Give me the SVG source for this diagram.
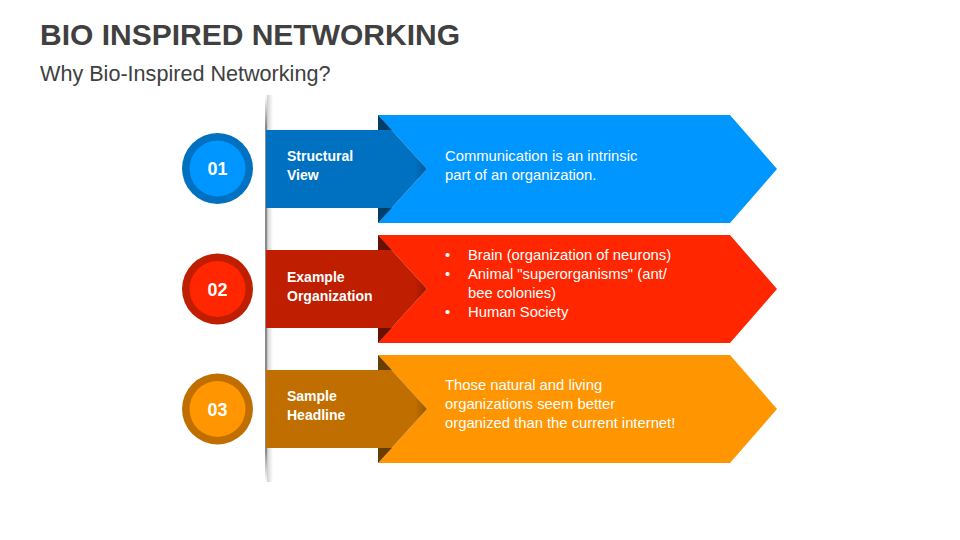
<svg xmlns="http://www.w3.org/2000/svg" width="960" height="540" viewBox="0 0 960 540">
<defs>
<linearGradient id="vline" x1="0" y1="0" x2="0" y2="1">
<stop offset="0" stop-color="#8a8a8a" stop-opacity="0"/>
<stop offset="0.08" stop-color="#8a8a8a"/>
<stop offset="0.92" stop-color="#8a8a8a"/>
<stop offset="1" stop-color="#8a8a8a" stop-opacity="0"/>
</linearGradient>
<linearGradient id="vshadow" x1="0" y1="0" x2="1" y2="0">
<stop offset="0" stop-color="#000" stop-opacity="0.18"/>
<stop offset="1" stop-color="#000" stop-opacity="0"/>
</linearGradient>
<linearGradient id="tipshade" x1="0" y1="0" x2="1" y2="0">
<stop offset="0" stop-color="#000" stop-opacity="0"/>
<stop offset="0.75" stop-color="#000" stop-opacity="0"/>
<stop offset="1" stop-color="#000" stop-opacity="0.2"/>
</linearGradient>
<polygon id="chev" points="0,0 352,0 399,54 352,108 0,108 49,54"/>
<polygon id="arrow" points="0,15 112,15 112,0 161,54 112,108 112,93 0,93"/>
<polygon id="tip" points="112,0 161,54 112,108"/>
<polygon id="foldT" points="112,0 126,15 112,15"/>
<polygon id="foldB" points="112,108 126,93 112,93"/>
</defs>
<style>
.title{font-family:"Liberation Sans",Arial,sans-serif;font-weight:bold;font-size:30px;fill:#404040}
.sub{font-family:"Liberation Sans",Arial,sans-serif;font-size:21.6px;fill:#404040}
.lbl{font-family:"Liberation Sans",Arial,sans-serif;font-weight:bold;font-size:14px;fill:#ffffff}
.num{font-family:"Liberation Sans",Arial,sans-serif;font-weight:bold;font-size:18px;fill:#ffffff}
.body{font-family:"Liberation Sans",Arial,sans-serif;font-size:14.8px;fill:#ffffff}
.fold{fill:#000;fill-opacity:0.45}
</style>
<rect width="960" height="540" fill="#ffffff"/>
<text class="title" x="40" y="45">BIO INSPIRED NETWORKING</text>
<text class="sub" x="40" y="81">Why Bio-Inspired Networking?</text>

<g id="connectors">
<rect x="267" y="95" width="6" height="387" fill="url(#vshadow)"/>
<rect x="265" y="95" width="2.2" height="387" fill="url(#vline)"/>
</g>

<g id="row1" transform="translate(266,115)">
<use href="#chev" x="112" fill="#0096FF"/>
<use href="#arrow" fill="#0070C0"/>
<use href="#tip" fill="url(#tipshade)"/>
<use href="#foldT" class="fold"/>
<use href="#foldB" class="fold"/>
</g>
<g id="circle1">
<circle cx="217.5" cy="168.5" r="35.5" fill="#0070C0"/>
<circle cx="217.5" cy="168.5" r="28" fill="#0096FF"/>
<text class="num" x="217.5" y="175" text-anchor="middle">01</text>
</g>
<g id="label1">
<text class="lbl" x="287" y="161">Structural</text>
<text class="lbl" x="287" y="180">View</text>
</g>
<g id="text1">
<text class="body" x="445" y="161">Communication is an intrinsic</text>
<text class="body" x="445" y="180">part of an organization.</text>
</g>

<g id="row2" transform="translate(266,235)">
<use href="#chev" x="112" fill="#FF2600"/>
<use href="#arrow" fill="#BF1E00"/>
<use href="#tip" fill="url(#tipshade)"/>
<use href="#foldT" class="fold"/>
<use href="#foldB" class="fold"/>
</g>
<g id="circle2">
<circle cx="217.5" cy="289" r="35.5" fill="#BF1E00"/>
<circle cx="217.5" cy="289" r="28" fill="#FF2600"/>
<text class="num" x="217.5" y="295.5" text-anchor="middle">02</text>
</g>
<g id="label2">
<text class="lbl" x="287" y="282">Example</text>
<text class="lbl" x="287" y="301">Organization</text>
</g>
<g id="text2">
<text class="body" x="445" y="260">•</text>
<text class="body" x="468" y="260">Brain (organization of neurons)</text>
<text class="body" x="445" y="279">•</text>
<text class="body" x="468" y="279">Animal "superorganisms" (ant/</text>
<text class="body" x="468" y="298">bee colonies)</text>
<text class="body" x="445" y="317">•</text>
<text class="body" x="468" y="317">Human Society</text>
</g>

<g id="row3" transform="translate(266,355)">
<use href="#chev" x="112" fill="#FF9500"/>
<use href="#arrow" fill="#C06E00"/>
<use href="#tip" fill="url(#tipshade)"/>
<use href="#foldT" class="fold"/>
<use href="#foldB" class="fold"/>
</g>
<g id="circle3">
<circle cx="217.5" cy="409" r="35.5" fill="#C06E00"/>
<circle cx="217.5" cy="409" r="28" fill="#FF9500"/>
<text class="num" x="217.5" y="415.5" text-anchor="middle">03</text>
</g>
<g id="label3">
<text class="lbl" x="287" y="401">Sample</text>
<text class="lbl" x="287" y="420">Headline</text>
</g>
<g id="text3">
<text class="body" x="445" y="390">Those natural and living</text>
<text class="body" x="445" y="409">organizations seem better</text>
<text class="body" x="445" y="428">organized than the current internet!</text>
</g>
</svg>
